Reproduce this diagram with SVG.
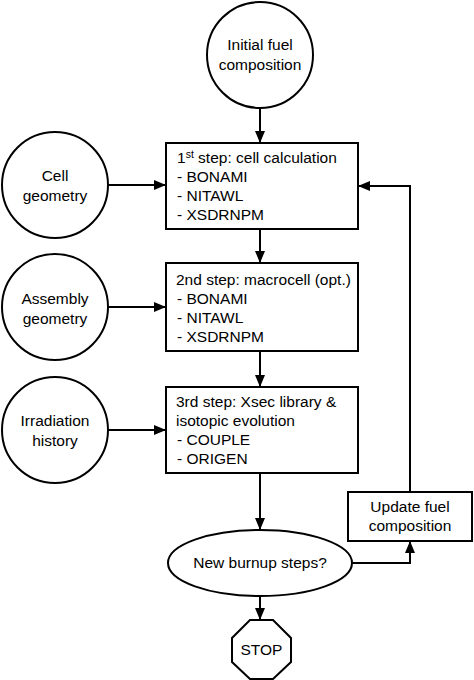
<svg xmlns="http://www.w3.org/2000/svg" width="474" height="680" viewBox="0 0 474 680">
<style>
.s{fill:#fff;stroke:#000;stroke-width:2}
.c{fill:none;stroke:#000;stroke-width:2}
text{font-family:"Liberation Sans",Arial,sans-serif;font-size:15.5px;fill:#000}
.m{text-anchor:middle}
</style>
<defs>
<marker id="a" markerWidth="12" markerHeight="12" refX="11" refY="6" orient="auto" markerUnits="userSpaceOnUse">
<path d="M0,1 L12,6 L0,11 Z" fill="#000"/>
</marker>
</defs>
<rect width="474" height="680" fill="#fff"/>
<g id="connectors">
<line class="c" x1="260" y1="108" x2="260" y2="142" marker-end="url(#a)"/>
<line class="c" x1="108" y1="185" x2="165" y2="185" marker-end="url(#a)"/>
<line class="c" x1="260" y1="229" x2="260" y2="262" marker-end="url(#a)"/>
<line class="c" x1="108" y1="307" x2="165" y2="307" marker-end="url(#a)"/>
<line class="c" x1="260" y1="351" x2="260" y2="386" marker-end="url(#a)"/>
<line class="c" x1="108" y1="430" x2="165" y2="430" marker-end="url(#a)"/>
<line class="c" x1="260" y1="473" x2="260" y2="529" marker-end="url(#a)"/>
<polyline class="c" points="352,563 410,563 410,542" marker-end="url(#a)"/>
<polyline class="c" points="410,492 410,186 359,186" marker-end="url(#a)"/>
<line class="c" x1="260" y1="597" x2="260" y2="619" marker-end="url(#a)"/>
</g>
<g id="initial">
<circle class="s" cx="260" cy="55" r="53"/>
<text class="m" x="260" y="50">Initial fuel</text>
<text class="m" x="260" y="70">composition</text>
</g>
<g id="cell">
<circle class="s" cx="55" cy="185" r="53"/>
<text class="m" x="55" y="181">Cell</text>
<text class="m" x="55" y="201">geometry</text>
</g>
<g id="assembly">
<circle class="s" cx="55" cy="307" r="53"/>
<text class="m" x="55" y="304">Assembly</text>
<text class="m" x="55" y="324">geometry</text>
</g>
<g id="irradiation">
<circle class="s" cx="55" cy="430" r="53"/>
<text class="m" x="55" y="426">Irradiation</text>
<text class="m" x="55" y="446">history</text>
</g>
<g id="step1">
<rect class="s" x="166" y="143" width="192" height="86"/>
<text x="177" y="163">1<tspan font-size="10.5" dy="-5">st</tspan><tspan dy="5"> step: cell calculation</tspan></text>
<text x="177" y="182">- BONAMI</text>
<text x="177" y="201">- NITAWL</text>
<text x="177" y="220">- XSDRNPM</text>
</g>
<g id="step2">
<rect class="s" x="166" y="263" width="192" height="88"/>
<text x="176" y="285">2nd step: macrocell (opt.)</text>
<text x="177" y="304">- BONAMI</text>
<text x="177" y="323">- NITAWL</text>
<text x="177" y="342">- XSDRNPM</text>
</g>
<g id="step3">
<rect class="s" x="166" y="387" width="192" height="86"/>
<text x="176" y="407">3rd step: Xsec library &amp;</text>
<text x="176" y="426">isotopic evolution</text>
<text x="177" y="445">- COUPLE</text>
<text x="177" y="464">- ORIGEN</text>
</g>
<g id="update">
<rect class="s" x="348" y="492" width="124" height="49"/>
<text class="m" x="410" y="512">Update fuel</text>
<text class="m" x="410" y="531">composition</text>
</g>
<g id="decision">
<ellipse class="s" cx="260" cy="563" rx="92" ry="33"/>
<text class="m" x="260" y="568">New burnup steps?</text>
</g>
<g id="stop">
<polygon class="s" points="250,620 273,620 291,638 291,662 273,679 250,679 232,662 232,638"/>
<text class="m" x="261.5" y="655">STOP</text>
</g>
</svg>
